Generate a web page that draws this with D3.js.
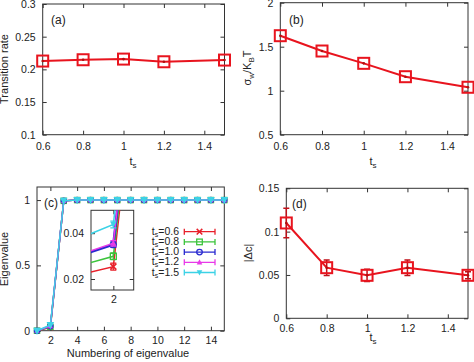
<!DOCTYPE html>
<html><head><meta charset="utf-8">
<script src="https://cdn.jsdelivr.net/npm/d3@7"></script>
<style>
body{margin:0;background:#fff}
text{font-family:"Liberation Sans",Arial,Helvetica,sans-serif;fill:#222}
</style>
</head><body>
<svg id="chart" width="474" height="362"></svg>
<script>
// ---------- data ----------
const tsValues = [0.6, 0.8, 1.0, 1.2, 1.5];
const transitionRate = [0.2127, 0.2147, 0.2157, 0.2116, 0.2142];
const sigmaW = [1.625, 1.451, 1.311, 1.159, 1.039];
const deltaC = [0.110, 0.0584, 0.0496, 0.0584, 0.0496];
const deltaCErr = [0.017, 0.009, 0.007, 0.009, 0.004];

const eigIndex = [1, 2, 3, 4, 5, 6, 7, 8, 9, 10, 11, 12, 13, 14, 15];
const eigTs06 = [0, 0.0254, 0.994, 1, 1, 1, 1, 1, 1, 1, 1, 1, 1, 1, 1];
const eigTs08 = [0, 0.0299, 0.994, 1, 1, 1, 1, 1, 1, 1, 1, 1, 1, 1, 1];
const eigTs10 = [0, 0.0350, 0.994, 1, 1, 1, 1, 1, 1, 1, 1, 1, 1, 1, 1];
const eigTs12 = [0, 0.0356, 0.994, 1, 1, 1, 1, 1, 1, 1, 1, 1, 1, 1, 1];
const eigTs15 = [0, 0.0438, 0.994, 1, 1, 1, 1, 1, 1, 1, 1, 1, 1, 1, 1];
const eigErr2 = [0.0015, 0.0015, 0.0012, 0.0012, 0.0015];
const seriesLabels = ["0.6", "0.8", "1.0", "1.2", "1.5"];
const seriesColors = ["#e8202a", "#3cc43c", "#2a2ad0", "#e83ae8", "#3cd2e6"];
const seriesSymbols = ["cross", "square", "circle", "triangle", "triangleDown"];

const tsTicks = [0.6, 0.8, 1, 1.2, 1.4];
const aYTicks = [0.1, 0.15, 0.2, 0.25, 0.3];
const bYTicks = [0.5, 1, 1.5, 2];
const cXTicks = [2, 4, 6, 8, 10, 12, 14];
const cYTicks = [0, 0.5, 1];
const insetYTicks = [0.02, 0.04];
const insetXTicks = [2];
const dYTicks = [0, 0.05, 0.1, 0.15];

const RED = "#e8141e";
const AXIS = "#333";
const svg = d3.select("#chart");

function frame(x, y, xt, yt, pad) {
  const g = svg.append("g");
  const [x0, x1] = x.range(), [y0, y1] = y.range();
  g.append("rect").attr("x", x0).attr("y", y1).attr("width", x1 - x0).attr("height", y0 - y1)
    .attr("fill", "none").attr("stroke", AXIS).attr("stroke-width", 1);
  const fmt = d => String(d);
  const ax = [
    d3.axisBottom(x).tickValues(xt).tickFormat(fmt).tickSize(-4).tickPadding(pad),
    d3.axisTop(x).tickValues(xt).tickFormat("").tickSize(-4),
    d3.axisLeft(y).tickValues(yt).tickFormat(fmt).tickSize(-4).tickPadding(7),
    d3.axisRight(y).tickValues(yt).tickFormat("").tickSize(-4)
  ];
  const pos = [[0, y0], [0, y1], [x0, 0], [x1, 0]];
  ax.forEach((a, i) => {
    const ag = g.append("g").attr("transform", `translate(${pos[i][0]},${pos[i][1]})`).call(a.tickSizeOuter(0));
    ag.select(".domain").remove();
    ag.selectAll("line").attr("stroke", AXIS);
    ag.selectAll("text").attr("font-size", 10.5).attr("fill", "#222")
      .attr("font-family", '"Liberation Sans",Arial,sans-serif');
  });
  return g;
}

function squareMarks(g, x, y, xs, ys) {
  g.selectAll(null).data(xs).enter().append("rect")
    .attr("x", (d, i) => x(d) - 5.5).attr("y", (d, i) => y(ys[i]) - 5.5)
    .attr("width", 11).attr("height", 11).attr("fill", "none")
    .attr("stroke", RED).attr("stroke-width", 2);
  g.selectAll(null).data(xs).enter().append("circle")
    .attr("cx", d => x(d)).attr("cy", (d, i) => y(ys[i])).attr("r", 1.3).attr("fill", "#b01010");
}

function lineFrom(x, y, xs, ys) {
  return d3.line().x(d => x(d[0])).y(d => y(d[1]))(xs.map((d, i) => [d, ys[i]]));
}

function tsLabel(cx, cy) {
  const t = svg.append("text").attr("x", cx).attr("y", cy).attr("text-anchor", "middle").attr("font-size", 11);
  t.append("tspan").text("t");
  t.append("tspan").attr("dy", 3).attr("font-size", 8).text("s");
}

function rotLabel(x, y) {
  return svg.append("text").attr("transform", `translate(${x},${y}) rotate(-90)`)
    .attr("text-anchor", "middle").attr("font-size", 11);
}

// ---------- panel (a) ----------
{
  const x = d3.scaleLinear().domain([0.6, 1.5]).range([42.7, 224.5]);
  const y = d3.scaleLinear().domain([0.1, 0.3]).range([134.7, 4]);
  frame(x, y, tsTicks, aYTicks, 8);
  const g = svg.append("g");
  g.append("path").attr("d", lineFrom(x, y, tsValues, transitionRate))
    .attr("fill", "none").attr("stroke", RED).attr("stroke-width", 2);
  squareMarks(g, x, y, tsValues, transitionRate);
  svg.append("text").attr("x", 51).attr("y", 24).attr("font-size", 12).text("(a)");
  tsLabel(133, 165);
  rotLabel(7.5, 69).text("Transition rate");
}

// ---------- panel (b) ----------
{
  const x = d3.scaleLinear().domain([0.6, 1.5]).range([280.3, 468]);
  const y = d3.scaleLinear().domain([0.5, 2]).range([134.7, 2.7]);
  frame(x, y, tsTicks, bYTicks, 8);
  const g = svg.append("g");
  g.append("path").attr("d", lineFrom(x, y, tsValues, sigmaW))
    .attr("fill", "none").attr("stroke", RED).attr("stroke-width", 2);
  squareMarks(g, x, y, tsValues, sigmaW);
  svg.append("text").attr("x", 289).attr("y", 24).attr("font-size", 12).text("(b)");
  tsLabel(373, 165);
  const t = rotLabel(251, 68);
  t.append("tspan").text("σ");
  t.append("tspan").attr("dy", 3).attr("font-size", 8).text("w");
  t.append("tspan").attr("dy", -3).text("/K");
  t.append("tspan").attr("dy", 3).attr("font-size", 8).text("B");
  t.append("tspan").attr("dy", -3).text("T");
}

// ---------- symbols ----------
function drawSymbol(g, type, cx, cy, color, s) {
  if (type === "cross") {
    g.append("path").attr("d", `M${cx - s},${cy - s}L${cx + s},${cy + s}M${cx - s},${cy + s}L${cx + s},${cy - s}`)
      .attr("stroke", color).attr("stroke-width", 1.5).attr("fill", "none");
  } else if (type === "square") {
    g.append("rect").attr("x", cx - s).attr("y", cy - s).attr("width", 2 * s).attr("height", 2 * s)
      .attr("stroke", color).attr("stroke-width", 1.3).attr("fill", "none");
  } else if (type === "circle") {
    g.append("circle").attr("cx", cx).attr("cy", cy).attr("r", s)
      .attr("stroke", color).attr("stroke-width", 1.3).attr("fill", "none");
  } else if (type === "triangle") {
    g.append("path").attr("d", `M${cx},${cy - s * 1.1}L${cx + s},${cy + s * 0.8}L${cx - s},${cy + s * 0.8}Z`).attr("fill", color);
  } else {
    g.append("path").attr("d", `M${cx},${cy + s * 1.1}L${cx + s},${cy - s * 0.8}L${cx - s},${cy - s * 0.8}Z`).attr("fill", color);
  }
}

// ---------- panel (c) ----------
{
  const eigSeries = [eigTs06, eigTs08, eigTs10, eigTs12, eigTs15];
  const x = d3.scaleLinear().domain([1, 15]).range([37, 224.3]);
  const y = d3.scaleLinear().domain([0, 1.1]).range([330.7, 187]);
  frame(x, y, cXTicks, cYTicks, 6);
  const g = svg.append("g");
  eigSeries.forEach((vals, k) => {
    g.append("path").attr("d", lineFrom(x, y, eigIndex, vals))
      .attr("fill", "none").attr("stroke", seriesColors[k]).attr("stroke-width", 1.5);
    eigIndex.forEach((d, i) => drawSymbol(g, seriesSymbols[k], x(d), y(vals[i]), seriesColors[k], k === 4 ? 3.8 : 2.6));
  });
  svg.append("text").attr("x", 44).attr("y", 207).attr("font-size", 12).text("(c)");
  svg.append("text").attr("x", 128).attr("y", 357).attr("text-anchor", "middle").attr("font-size", 11)
    .text("Numbering of eigenvalue");
  rotLabel(7.5, 259).text("Eigenvalue");

  // inset
  const xi = d3.scaleLinear().domain([1.909, 2.083]).range([91, 133.7]);
  const yi = d3.scaleLinear().domain([0.0152, 0.05]).range([290, 210.3]);
  svg.append("rect").attr("x", 91).attr("y", 210.3).attr("width", 42.7).attr("height", 79.7).attr("fill", "#fff");
  frame(xi, yi, insetXTicks, insetYTicks, 6);
  svg.append("clipPath").attr("id", "insetClip").append("rect")
    .attr("x", 91).attr("y", 210.3).attr("width", 42.7).attr("height", 79.7);
  const gi = svg.append("g").attr("clip-path", "url(#insetClip)");
  eigSeries.forEach((vals, k) => {
    gi.append("path").attr("d", lineFrom(xi, yi, eigIndex, vals))
      .attr("fill", "none").attr("stroke", seriesColors[k]).attr("stroke-width", k === 2 ? 2.5 : 1.5);
    const cx = xi(2), cy = yi(vals[1]), e = eigErr2[k];
    gi.append("path").attr("d", `M${cx},${yi(vals[1] - e)}V${yi(vals[1] + e)}M${cx - 3},${yi(vals[1] - e)}H${cx + 3}M${cx - 3},${yi(vals[1] + e)}H${cx + 3}`)
      .attr("stroke", seriesColors[k]).attr("stroke-width", 1.2).attr("fill", "none");
    drawSymbol(gi, seriesSymbols[k], cx, cy, seriesColors[k], 3);
  });

  // legend
  const lg = svg.append("g");
  seriesLabels.forEach((lab, k) => {
    const yy = 231.7 + k * 10.2;
    const t = lg.append("text").attr("x", 179).attr("y", yy + 3).attr("text-anchor", "end").attr("font-size", 10.5);
    t.append("tspan").text("t");
    t.append("tspan").attr("dy", 2).attr("font-size", 7).text("s");
    t.append("tspan").attr("dy", -2).text("=" + lab);
    lg.append("path").attr("d", `M184.3,${yy}H215M184.3,${yy - 3}V${yy + 3}M215,${yy - 3}V${yy + 3}`)
      .attr("stroke", seriesColors[k]).attr("stroke-width", 1.3).attr("fill", "none");
    drawSymbol(lg, seriesSymbols[k], 199.5, yy, seriesColors[k], 2.8);
  });
}

// ---------- panel (d) ----------
{
  const x = d3.scaleLinear().domain([0.6, 1.5]).range([286.3, 468]);
  const y = d3.scaleLinear().domain([0, 0.15]).range([318.3, 188.3]);
  frame(x, y, tsTicks, dYTicks, 6);
  const g = svg.append("g");
  g.append("path").attr("d", lineFrom(x, y, tsValues, deltaC))
    .attr("fill", "none").attr("stroke", RED).attr("stroke-width", 2);
  tsValues.forEach((d, i) => {
    const cx = x(d), lo = y(deltaC[i] - deltaCErr[i]), hi = y(deltaC[i] + deltaCErr[i]);
    g.append("path").attr("d", `M${cx},${lo}V${hi}M${cx - 3},${lo}H${cx + 3}M${cx - 3},${hi}H${cx + 3}`)
      .attr("stroke", "#c01018").attr("stroke-width", 1.5).attr("fill", "none");
  });
  squareMarks(g, x, y, tsValues, deltaC);
  svg.append("text").attr("x", 292).attr("y", 208).attr("font-size", 12).text("(d)");
  tsLabel(373, 341);
  rotLabel(252, 253).text("|Δc|");
}
</script>
</body></html>
